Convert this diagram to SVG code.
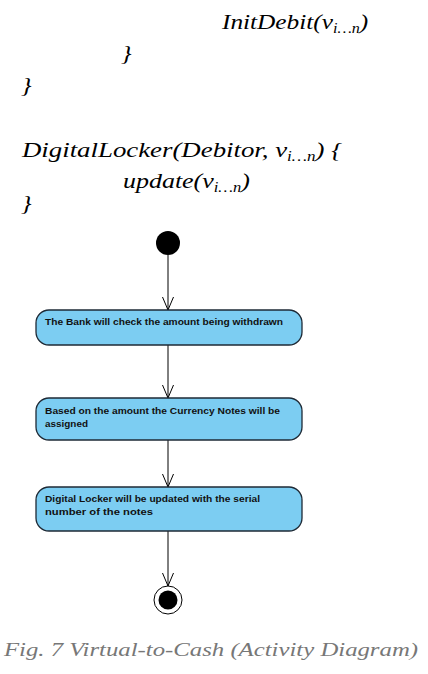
<svg xmlns="http://www.w3.org/2000/svg" width="428" height="674" viewBox="0 0 428 674">
<style>
.code{font-family:"Liberation Serif","Times New Roman",serif;font-style:italic;font-size:22px;fill:#000}
.sub{font-size:14px}
.box{fill:#7ccdf2;stroke:#1e2a36;stroke-width:1.3}
.lbl{font-family:"Liberation Sans",Arial,sans-serif;font-weight:bold;font-size:9.4px;fill:#111}
.edge{stroke:#000;stroke-width:1;fill:none}
.cap{font-family:"Liberation Serif","Times New Roman",serif;font-style:italic;font-size:19px;fill:#777}
</style>
<defs>
<marker id="arr" viewBox="-14 -7 16 14" markerWidth="16" markerHeight="14" refX="0" refY="0" orient="auto" markerUnits="userSpaceOnUse">
<path d="M-13,-5.5 L0,0 L-13,5.5" fill="none" stroke="#000" stroke-width="1"/>
</marker>
</defs>
<rect width="428" height="674" fill="#fff"/>
<g id="code">
<text class="code" transform="translate(222,29) scale(1.15,1)">InitDebit(v<tspan class="sub" dy="4">i…n</tspan><tspan dy="-4">)</tspan></text>
<text class="code" transform="translate(121,60) scale(1.2,1)">}</text>
<text class="code" transform="translate(21,92) scale(1.2,1)">}</text>
<text class="code" transform="translate(22,157) scale(1.22,1)">DigitalLocker(Debitor, v<tspan class="sub" dy="4">i…n</tspan><tspan dy="-4">) {</tspan></text>
<text class="code" transform="translate(123,188) scale(1.18,1)">update(v<tspan class="sub" dy="4">i…n</tspan><tspan dy="-4">)</tspan></text>
<text class="code" transform="translate(21,210) scale(1.2,1)">}</text>
</g>
<g id="connectors">
<line class="edge" x1="168" y1="255" x2="168" y2="310" marker-end="url(#arr)"/>
<line class="edge" x1="168" y1="345" x2="168" y2="398" marker-end="url(#arr)"/>
<line class="edge" x1="168" y1="440" x2="168" y2="487" marker-end="url(#arr)"/>
<line class="edge" x1="168" y1="531" x2="168" y2="586" marker-end="url(#arr)"/>
</g>
<g id="start">
<circle cx="168" cy="243" r="12" fill="#000"/>
</g>
<g id="act1">
<rect class="box" x="36" y="310" width="266" height="35" rx="13"/>
<text class="lbl" x="45" y="325" textLength="238" lengthAdjust="spacingAndGlyphs">The Bank will check the amount being withdrawn</text>
</g>
<g id="act2">
<rect class="box" x="36" y="398" width="266" height="42" rx="13"/>
<text class="lbl" x="45" y="414" textLength="235" lengthAdjust="spacingAndGlyphs">Based on the amount the Currency Notes will be</text>
<text class="lbl" x="45" y="427" textLength="43" lengthAdjust="spacingAndGlyphs">assigned</text>
</g>
<g id="act3">
<rect class="box" x="36" y="487" width="266" height="44" rx="13"/>
<text class="lbl" x="45" y="502" textLength="215" lengthAdjust="spacingAndGlyphs">Digital Locker will be updated with the serial</text>
<text class="lbl" x="45" y="515" textLength="108" lengthAdjust="spacingAndGlyphs">number of the notes</text>
</g>
<g id="end">
<circle cx="168" cy="600" r="14" fill="#fff" stroke="#000" stroke-width="1"/>
<circle cx="168" cy="600" r="9.5" fill="#000"/>
</g>
<text class="cap" x="4" y="656" textLength="414" lengthAdjust="spacingAndGlyphs">Fig. 7 Virtual-to-Cash (Activity Diagram)</text>
</svg>
